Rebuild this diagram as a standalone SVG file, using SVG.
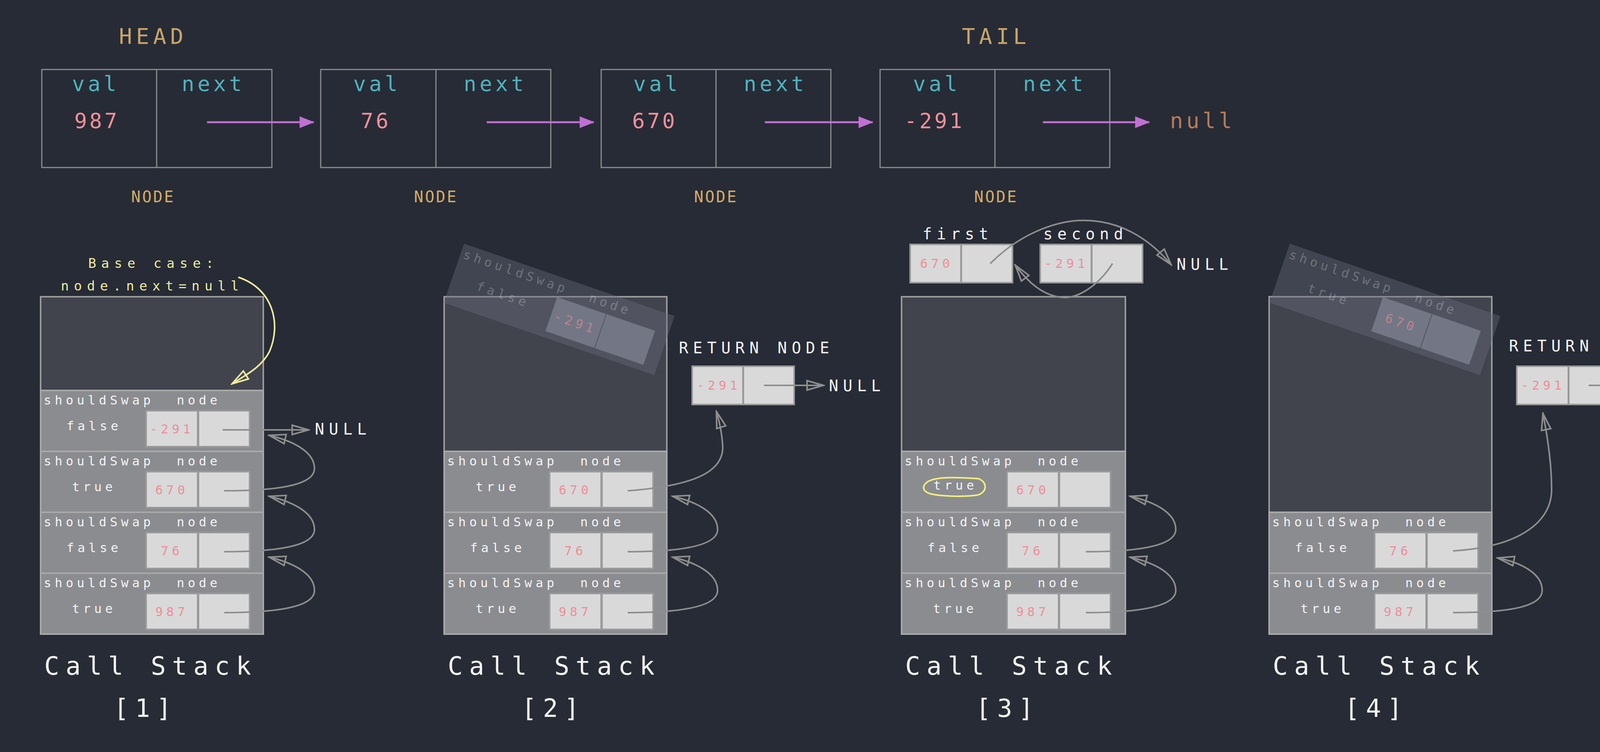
<svg xmlns="http://www.w3.org/2000/svg" width="4806" height="1926" viewBox="0 0 4806 1926">
<style>
text{font-family:"DejaVu Sans Mono","Liberation Mono",monospace}
.gold{fill:#c9a66b;font-size:56px;letter-spacing:10px;text-anchor:middle}
.ngold{fill:#d6ad66;font-size:40px;letter-spacing:4px;text-anchor:middle}
.teal{fill:#4eb3bd;font-size:54px;letter-spacing:8px;text-anchor:middle}
.pinkb{fill:#f2909a;font-size:54px;letter-spacing:6px;text-anchor:middle}
.tn{fill:none;stroke:#8c8c8c;stroke-width:3}
.parr{stroke:#c070d4;stroke-width:5;fill:none}
.stk{fill:#41444d;stroke:#9a9a9a;stroke-width:4}
.fr{fill:#8b8c90;stroke:#a9a9a9;stroke-width:4}
.lbl{fill:#f4f4f4;font-size:32px;letter-spacing:9px}
.mid{text-anchor:middle}
.cell{fill:#d9d9d9;stroke:#9a9a9a;stroke-width:4}
.num{fill:#f08b96;font-size:32px;letter-spacing:9px;text-anchor:middle}
.con{fill:none;stroke:#8e8e8e;stroke-width:4;marker-end:url(#oa)}
.white{fill:#f4f4f4;font-size:40px;letter-spacing:12px}
.big{fill:#f4f4f4;font-size:64px;letter-spacing:16px;text-anchor:middle}
</style>
<defs>
<marker id="pa" markerUnits="userSpaceOnUse" markerWidth="40" markerHeight="30" refX="36" refY="15" orient="auto"><path d="M0,0 L38,15 L0,30 Z" fill="#c070d4"/></marker>
<marker id="oa" markerUnits="userSpaceOnUse" markerWidth="50" markerHeight="32" refX="46" refY="16" orient="auto"><path d="M4,4 L46,16 L4,28 Z" fill="none" stroke="#8e8e8e" stroke-width="4"/></marker>
<marker id="ya" markerUnits="userSpaceOnUse" markerWidth="50" markerHeight="32" refX="46" refY="16" orient="auto"><path d="M4,4 L46,16 L4,28 Z" fill="none" stroke="#f0eca0" stroke-width="4"/></marker>
</defs>
<rect width="4806" height="1926" fill="#272b35"/>

<text class="gold" x="392" y="112">HEAD</text>
<text class="gold" x="2550" y="112">TAIL</text>

<g id="node1"><rect class="tn" x="107" y="178" width="589" height="251"/><line class="tn" x1="401" y1="178" x2="401" y2="429"/><text class="teal" x="245" y="233">val</text><text class="teal" x="546" y="233">next</text><text class="pinkb" x="248" y="328">987</text><text class="ngold" x="392" y="518">NODE</text></g>
<g id="node2"><rect class="tn" x="821" y="178" width="589" height="251"/><line class="tn" x1="1116" y1="178" x2="1116" y2="429"/><text class="teal" x="965" y="233">val</text><text class="teal" x="1268" y="233">next</text><text class="pinkb" x="962" y="328">76</text><text class="ngold" x="1116" y="518">NODE</text></g>
<g id="node3"><rect class="tn" x="1539" y="178" width="588" height="251"/><line class="tn" x1="1833" y1="178" x2="1833" y2="429"/><text class="teal" x="1682" y="233">val</text><text class="teal" x="1985" y="233">next</text><text class="pinkb" x="1676" y="328">670</text><text class="ngold" x="1833" y="518">NODE</text></g>
<g id="node4"><rect class="tn" x="2253" y="178" width="588" height="251"/><line class="tn" x1="2547" y1="178" x2="2547" y2="429"/><text class="teal" x="2398" y="233">val</text><text class="teal" x="2700" y="233">next</text><text class="pinkb" x="2392" y="328">-291</text><text class="ngold" x="2550" y="518">NODE</text></g>
<text id="null-top" x="2995" y="328" fill="#b47c5c" font-size="56" letter-spacing="8">null</text>

<g id="stack1">
<rect class="stk" x="104" y="760" width="570" height="864"/>
<g transform="translate(104,1000)"><rect class="fr" width="570" height="156"/><text class="lbl" x="8" y="36">shouldSwap</text><text class="lbl mid" x="405" y="36">node</text><text class="lbl mid" x="137" y="102">false</text><rect class="cell" x="270" y="52" width="132" height="92"/><rect class="cell" x="404" y="52" width="131" height="92"/><text class="num" x="336" y="110">-291</text></g>
<g transform="translate(104,1156)"><rect class="fr" width="570" height="156"/><text class="lbl" x="8" y="36">shouldSwap</text><text class="lbl mid" x="405" y="36">node</text><text class="lbl mid" x="137" y="102">true</text><rect class="cell" x="270" y="52" width="132" height="92"/><rect class="cell" x="404" y="52" width="131" height="92"/><text class="num" x="336" y="110">670</text></g>
<g transform="translate(104,1312)"><rect class="fr" width="570" height="156"/><text class="lbl" x="8" y="36">shouldSwap</text><text class="lbl mid" x="405" y="36">node</text><text class="lbl mid" x="137" y="102">false</text><rect class="cell" x="270" y="52" width="132" height="92"/><rect class="cell" x="404" y="52" width="131" height="92"/><text class="num" x="336" y="110">76</text></g>
<g transform="translate(104,1468)"><rect class="fr" width="570" height="156"/><text class="lbl" x="8" y="36">shouldSwap</text><text class="lbl mid" x="405" y="36">node</text><text class="lbl mid" x="137" y="102">true</text><rect class="cell" x="270" y="52" width="132" height="92"/><rect class="cell" x="404" y="52" width="131" height="92"/><text class="num" x="336" y="110">987</text></g>
<text x="393" y="686" fill="#f0eca0" font-size="34" letter-spacing="13" text-anchor="middle">Base case:</text>
<text x="390" y="744" fill="#f0eca0" font-size="34" letter-spacing="13" text-anchor="middle">node.next=null</text>
<text class="white" x="806" y="1113">NULL</text>
<text class="big" x="386" y="1728">Call Stack</text>
<text class="big" x="373" y="1836">[1]</text>
</g>

<g id="stack2">
<rect class="stk" x="1137" y="760" width="570" height="864"/>
<g transform="translate(1188,624) rotate(19)"><rect width="570" height="160" fill="#6a6e7c" opacity=".4"/><text class="lbl" x="8" y="36" opacity=".25">shouldSwap</text><text class="lbl mid" x="405" y="36" opacity=".25">node</text><text class="lbl mid" x="137" y="102" opacity=".25">false</text><rect x="270" y="52" width="132" height="92" fill="#8a8f9e" opacity=".6"/><rect x="404" y="52" width="131" height="92" fill="#8a8f9e" opacity=".6"/><text class="num" x="336" y="110" fill="#a04a58" opacity=".6">-291</text></g>
<g transform="translate(1137,1156)"><rect class="fr" width="570" height="156"/><text class="lbl" x="8" y="36">shouldSwap</text><text class="lbl mid" x="405" y="36">node</text><text class="lbl mid" x="137" y="102">true</text><rect class="cell" x="270" y="52" width="132" height="92"/><rect class="cell" x="404" y="52" width="131" height="92"/><text class="num" x="336" y="110">670</text></g>
<g transform="translate(1137,1312)"><rect class="fr" width="570" height="156"/><text class="lbl" x="8" y="36">shouldSwap</text><text class="lbl mid" x="405" y="36">node</text><text class="lbl mid" x="137" y="102">false</text><rect class="cell" x="270" y="52" width="132" height="92"/><rect class="cell" x="404" y="52" width="131" height="92"/><text class="num" x="336" y="110">76</text></g>
<g transform="translate(1137,1468)"><rect class="fr" width="570" height="156"/><text class="lbl" x="8" y="36">shouldSwap</text><text class="lbl mid" x="405" y="36">node</text><text class="lbl mid" x="137" y="102">true</text><rect class="cell" x="270" y="52" width="132" height="92"/><rect class="cell" x="404" y="52" width="131" height="92"/><text class="num" x="336" y="110">987</text></g>
<text class="white" x="1738" y="905">RETURN NODE</text>
<rect class="cell" x="1772" y="938" width="130" height="98" stroke="#8a8a8a" stroke-width="5"/><rect class="cell" x="1903" y="938" width="130" height="98" stroke="#8a8a8a" stroke-width="5"/>
<text class="num" x="1840" y="998">-291</text>
<text class="white" x="2122" y="1002">NULL</text>
<text class="big" x="1419" y="1728">Call Stack</text>
<text class="big" x="1417" y="1836">[2]</text>
</g>

<g id="stack3">
<rect class="stk" x="2308" y="760" width="573" height="864"/>
<g transform="translate(2308,1156)"><rect class="fr" width="573" height="156"/><text class="lbl" x="8" y="36">shouldSwap</text><text class="lbl mid" x="405" y="36">node</text><text class="lbl mid" x="138" y="98">true</text><rect class="cell" x="270" y="52" width="132" height="92"/><rect class="cell" x="404" y="52" width="131" height="92"/><text class="num" x="336" y="110">670</text></g>
<g transform="translate(2308,1312)"><rect class="fr" width="573" height="156"/><text class="lbl" x="8" y="36">shouldSwap</text><text class="lbl mid" x="405" y="36">node</text><text class="lbl mid" x="137" y="102">false</text><rect class="cell" x="270" y="52" width="132" height="92"/><rect class="cell" x="404" y="52" width="131" height="92"/><text class="num" x="336" y="110">76</text></g>
<g transform="translate(2308,1468)"><rect class="fr" width="573" height="156"/><text class="lbl" x="8" y="36">shouldSwap</text><text class="lbl mid" x="405" y="36">node</text><text class="lbl mid" x="137" y="102">true</text><rect class="cell" x="270" y="52" width="132" height="92"/><rect class="cell" x="404" y="52" width="131" height="92"/><text class="num" x="336" y="110">987</text></g>
<path d="M2372,1236 C2390,1220 2450,1222 2505,1226 C2530,1236 2526,1262 2502,1268 C2460,1274 2400,1270 2380,1264 C2362,1258 2360,1246 2372,1236 Z" fill="none" stroke="#f2f07a" stroke-width="4"/>
<text class="white" x="2452" y="613" text-anchor="middle">first</text>
<text class="white" x="2779" y="613" text-anchor="middle">second</text>
<rect class="cell" x="2330" y="626" width="130" height="98" stroke="#8a8a8a" stroke-width="5"/><rect class="cell" x="2461" y="626" width="131" height="98" stroke="#8a8a8a" stroke-width="5"/>
<text class="num" x="2398" y="686">670</text>
<rect class="cell" x="2663" y="626" width="131" height="98" stroke="#8a8a8a" stroke-width="5"/><rect class="cell" x="2795" y="626" width="130" height="98" stroke="#8a8a8a" stroke-width="5"/>
<text class="num" x="2730" y="686">-291</text>
<text class="white" x="3012" y="691">NULL</text>
<text class="big" x="2590" y="1728">Call Stack</text>
<text class="big" x="2580" y="1836">[3]</text>
</g>

<g id="stack4">
<rect class="stk" x="3249" y="760" width="570" height="864"/>
<g transform="translate(3302,624) rotate(19)"><rect width="570" height="160" fill="#6a6e7c" opacity=".4"/><text class="lbl" x="8" y="36" opacity=".25">shouldSwap</text><text class="lbl mid" x="405" y="36" opacity=".25">node</text><text class="lbl mid" x="137" y="102" opacity=".25">true</text><rect x="270" y="52" width="132" height="92" fill="#8a8f9e" opacity=".6"/><rect x="404" y="52" width="131" height="92" fill="#8a8f9e" opacity=".6"/><text class="num" x="336" y="110" fill="#a04a58" opacity=".6">670</text></g>
<g transform="translate(3249,1312)"><rect class="fr" width="570" height="156"/><text class="lbl" x="8" y="36">shouldSwap</text><text class="lbl mid" x="405" y="36">node</text><text class="lbl mid" x="137" y="102">false</text><rect class="cell" x="270" y="52" width="132" height="92"/><rect class="cell" x="404" y="52" width="131" height="92"/><text class="num" x="336" y="110">76</text></g>
<g transform="translate(3249,1468)"><rect class="fr" width="570" height="156"/><text class="lbl" x="8" y="36">shouldSwap</text><text class="lbl mid" x="405" y="36">node</text><text class="lbl mid" x="137" y="102">true</text><rect class="cell" x="270" y="52" width="132" height="92"/><rect class="cell" x="404" y="52" width="131" height="92"/><text class="num" x="336" y="110">987</text></g>
<text class="white" x="3863" y="900">RETURN second</text>
<rect class="cell" x="3883" y="938" width="132" height="98" stroke="#8a8a8a" stroke-width="5"/><rect class="cell" x="4016" y="938" width="128" height="98" stroke="#8a8a8a" stroke-width="5"/>
<text class="num" x="3950" y="998">-291</text>
<rect class="cell" x="4233" y="938" width="132" height="98" stroke="#8a8a8a" stroke-width="5"/><rect class="cell" x="4366" y="938" width="130" height="98" stroke="#8a8a8a" stroke-width="5"/>
<text class="num" x="4300" y="998">670</text>
<text class="white" x="4590" y="1002">NULL</text>
<text class="big" x="3531" y="1728">Call Stack</text>
<text class="big" x="3524" y="1836">[4]</text>
</g>
<text id="etc" x="4383" y="1586" fill="#f4f4f4" font-size="74" letter-spacing="14" text-anchor="middle">ETC…</text>

<g id="connectors">
<line class="parr" x1="530" y1="313" x2="803" y2="313" marker-end="url(#pa)"/>
<line class="parr" x1="1246" y1="313" x2="1520" y2="313" marker-end="url(#pa)"/>
<line class="parr" x1="1958" y1="313" x2="2234" y2="313" marker-end="url(#pa)"/>
<line class="parr" x1="2670" y1="313" x2="2942" y2="313" marker-end="url(#pa)"/>
<path d="M610,710 C700,740 720,830 690,900 C670,940 630,960 594,983" fill="none" stroke="#f0eca0" stroke-width="4" marker-end="url(#ya)"/>
<line class="con" x1="570" y1="1101" x2="790" y2="1101"/>
<path class="con" d="M574,1257 C700,1257 805,1245 805,1200 C805,1155 745,1128 689,1115"/>
<path class="con" d="M574,1413 C700,1413 805,1401 805,1356 C805,1311 745,1284 689,1271"/>
<path class="con" d="M574,1569 C700,1569 805,1557 805,1512 C805,1467 745,1440 689,1427"/>
<path class="con" d="M1607,1257 C1760,1245 1855,1215 1850,1140 C1848,1110 1842,1080 1834,1054"/>
<path class="con" d="M1607,1413 C1730,1413 1837,1401 1837,1356 C1837,1311 1778,1284 1722,1271"/>
<path class="con" d="M1607,1569 C1730,1569 1837,1557 1837,1512 C1837,1467 1778,1440 1722,1427"/>
<line class="con" x1="1956" y1="987" x2="2108" y2="987"/>
<path class="con" d="M2535,675 C2620,590 2720,560 2790,565 C2880,570 2950,620 2998,678"/>
<path class="con" d="M2848,675 C2820,720 2770,762 2725,762 C2670,760 2630,720 2599,679"/>
<path class="con" d="M2780,1413 C2900,1413 3010,1401 3010,1356 C3010,1311 2950,1284 2893,1271"/>
<path class="con" d="M2780,1569 C2900,1569 3010,1557 3010,1512 C3010,1467 2950,1440 2893,1427"/>
<path class="con" d="M3720,1411 C3900,1400 3975,1330 3972,1250 C3972,1180 3960,1110 3950,1059"/>
<path class="con" d="M3720,1569 C3850,1569 3948,1557 3948,1512 C3948,1467 3890,1440 3834,1429"/>
<line class="con" x1="4067" y1="987" x2="4221" y2="987"/>
<line class="con" x1="4428" y1="987" x2="4580" y2="987"/>
</g>
</svg>
